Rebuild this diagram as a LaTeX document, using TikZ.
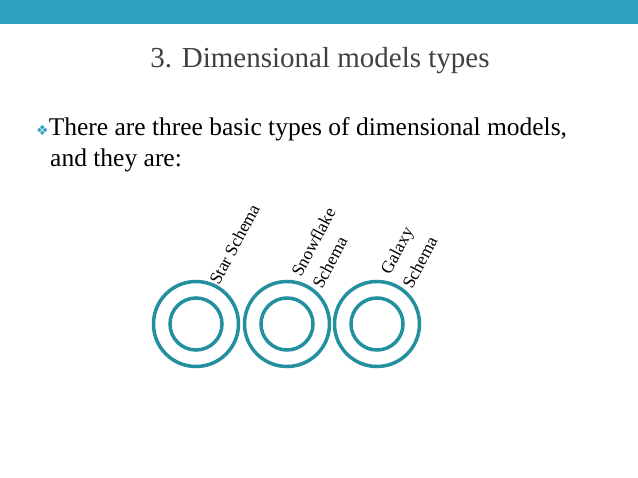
\documentclass[tikz,border=0pt]{standalone}
\usepackage{fontspec}
\setmainfont{Liberation Serif}
\newfontfamily\symf{DejaVu Sans}
\definecolor{teal1}{HTML}{2EA2BF}
\definecolor{ring}{HTML}{23909F}
\begin{document}
\begin{tikzpicture}[x=1pt,y=-1pt,
  ringo/.style={draw=ring,line width=3.5pt},
  lab/.style={rotate=62,anchor=base west,font=\fontsize{17.5}{18}\selectfont,inner sep=0pt}]
\useasboundingbox (0,0) rectangle (638,478);
\fill[white] (0,0) rectangle (638,478);
\fill[teal1] (0,0) rectangle (638,24);
\node[font=\fontsize{29}{32}\selectfont,text=black!75] (title) at (320,61) {3. Dimensional models types};
\node[anchor=base west,font=\fontsize{25.5}{28}\selectfont,inner sep=0pt] (l1) at (36,136) {{\symf\color{teal1}\fontsize{14}{15}\selectfont ❖}There are three basic types of dimensional models,};
\node[anchor=base west,font=\fontsize{25.5}{28}\selectfont,inner sep=0pt] (l2) at (50,167) {and they are:};
\foreach \n/\x in {a/196,b/287,c/377}{
  \draw[ringo] (\x,324) circle (42.5);
  \draw[ringo] (\x,324) circle (26);
  \coordinate (\n) at (\x,324);
}
\node[lab] (s1) at (219,286) {Star Schema};
\node[lab] (s2) at (301,278) {Snowflake};
\node[lab] (s3) at (322,290) {Schema};
\node[lab] (s4) at (390,276) {Galaxy};
\node[lab] (s5) at (412,290) {Schema};
\end{tikzpicture}
\end{document}
